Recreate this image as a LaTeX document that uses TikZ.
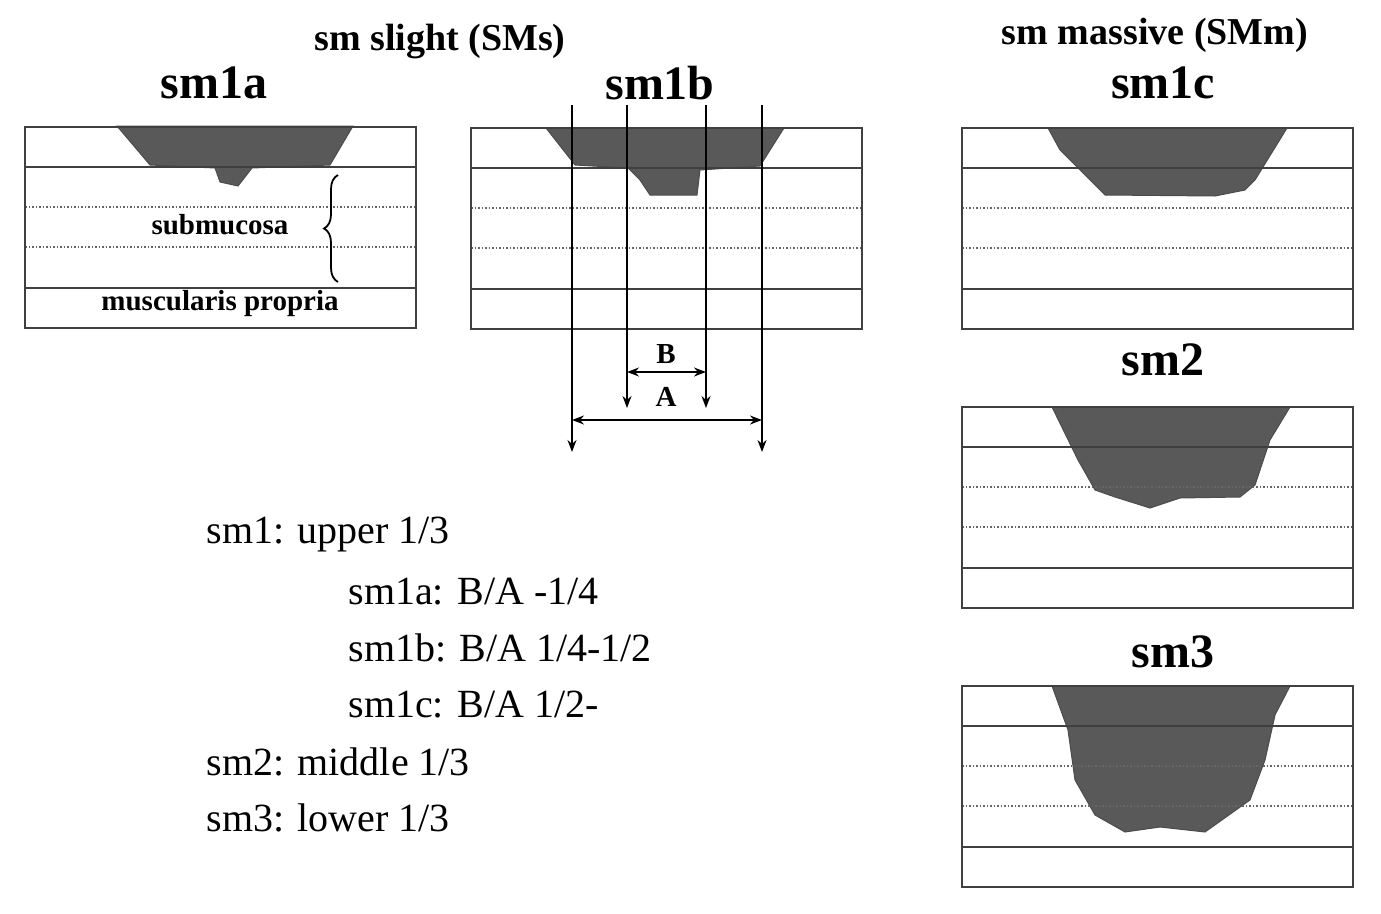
\documentclass[tikz,border=0pt]{standalone}
\usepackage{fontspec}
\setmainfont{Liberation Serif}
\usetikzlibrary{arrows.meta,decorations.pathreplacing}
\begin{document}
\begin{tikzpicture}[x=1pt,y=-1pt,
 box/.style={draw=black!75,line width=2pt},
 sol/.style={draw=black!75,line width=2pt},
 dot/.style={draw=black!60,line width=1.5pt,dotted},
 tum/.style={fill=black!65,draw=black!70,line width=1pt},
 ttl/.style={font=\bfseries\fontsize{38}{40}\selectfont},
 big/.style={font=\bfseries\fontsize{48}{50}\selectfont},
 lab/.style={font=\bfseries\fontsize{29}{30}\selectfont},
 leg/.style={font=\fontsize{40}{42}\selectfont,anchor=west},
 arr/.style={-{Stealth[length=12pt,width=9pt]},line width=1.6pt}]
\useasboundingbox (0,0) rectangle (1381,913);
% tumors
\fill[tum] (117,126)--(353,126)--(330,165)--(252,168)--(238,186)--(220,182)--(215,168)--(150,165)--cycle;
\fill[tum] (546,128)--(784,128)--(760,166)--(700,170)--(697,195)--(650,195)--(640,180)--(628,168)--(575,165)--cycle;
\fill[tum] (1048,128)--(1287,128)--(1255,180)--(1245,190)--(1215,196)--(1105,195)--(1060,150)--cycle;
\fill[tum] (1052,407)--(1290,407)--(1270,440)--(1255,485)--(1240,497)--(1180,498)--(1150,508)--(1115,497)--(1095,490)--(1078,460)--cycle;
\fill[tum] (1052,686)--(1290,686)--(1275,715)--(1265,760)--(1250,800)--(1205,832)--(1160,827)--(1125,832)--(1095,815)--(1075,780)--(1068,730)--cycle;
% boxes
\foreach \x/\y in {25/127,471/128,962/128,962/407,962/686}{
 \draw[dot] (\x,\y+80)--(\x+391,\y+80);
 \draw[dot] (\x,\y+120)--(\x+391,\y+120);
 \draw[sol] (\x,\y+40)--(\x+391,\y+40);
 \draw[sol] (\x,\y+161)--(\x+391,\y+161);
 \draw[box] (\x,\y) rectangle (\x+391,\y+201);
}
% brace
\draw[line width=1.8pt,decorate,decoration={brace,amplitude=14pt}] (338,282)--(338,175);
\node[lab] (sub) at (220,225) {submucosa};
\node[lab] (mus) at (220,304) {muscularis propria};
% measurement arrows
\coordinate (t1) at (572,105); \coordinate (b1) at (572,452);
\coordinate (t2) at (627,105); \coordinate (b2) at (627,408);
\coordinate (t3) at (706,105); \coordinate (b3) at (706,408);
\coordinate (t4) at (762,105); \coordinate (b4) at (762,452);
\draw[arr] (t1)--(b1); \draw[arr] (t2)--(b2); \draw[arr] (t3)--(b3); \draw[arr] (t4)--(b4);
\coordinate (bl) at (627,372); \coordinate (br) at (706,372);
\coordinate (al) at (572,420); \coordinate (ar) at (762,420);
\draw[arr,{Stealth[length=12pt,width=9pt]}-{Stealth[length=12pt,width=9pt]}] (bl)--(br);
\draw[arr,{Stealth[length=12pt,width=9pt]}-{Stealth[length=12pt,width=9pt]}] (al)--(ar);
\node[lab] (B) at (666,354) {B};
\node[lab] (A) at (666,397) {A};
% titles
\node[ttl] (t1s) at (440,42) {sm slight (SMs)};
\node[ttl] (t2s) at (1155,35) {sm massive (SMm)};
\node[big] (n1a) at (214,83) {sm1a};
\node[big] (n1b) at (660,83) {sm1b};
\node[big] (n1c) at (1163,83) {sm1c};
\node[big] (n2) at (1163,360) {sm2};
\node[big] (n3) at (1173,652) {sm3};
% legend
\node[leg] (l1) at (203,535) {sm1: upper 1/3};
\node[leg] (l2) at (345,592) {sm1a: B/A -1/4};
\node[leg] (l3) at (345,648) {sm1b: B/A 1/4-1/2};
\node[leg] (l4) at (345,705) {sm1c: B/A 1/2-};
\node[leg] (l5) at (203,762) {sm2: middle 1/3};
\node[leg] (l6) at (203,818) {sm3: lower 1/3};
\end{tikzpicture}
\end{document}
